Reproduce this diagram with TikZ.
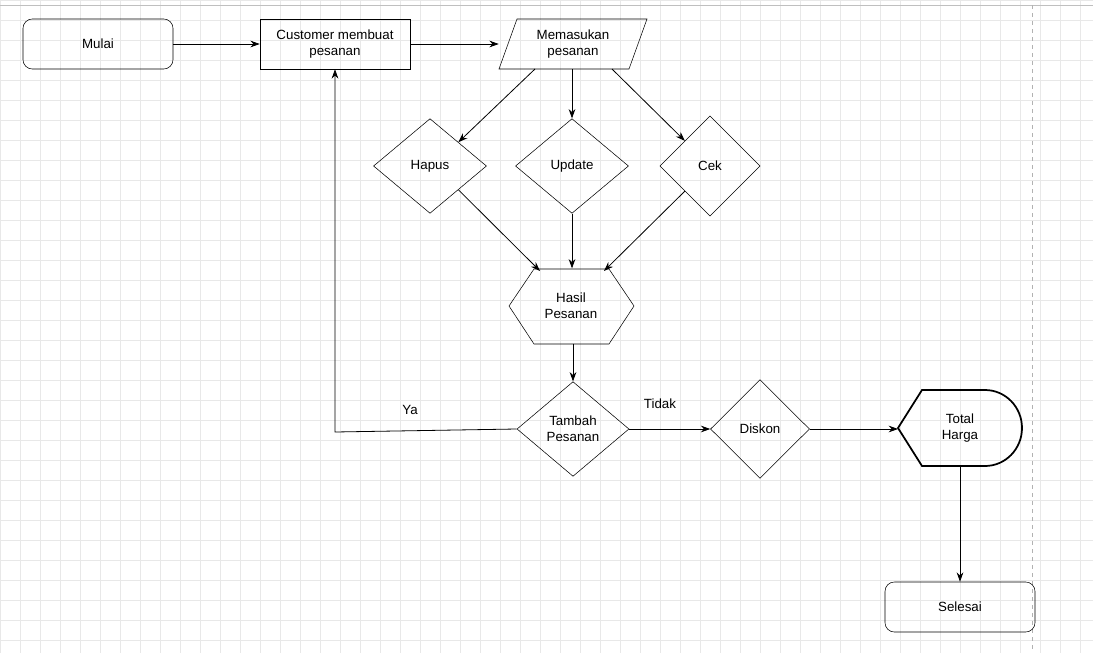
\documentclass[tikz,border=0pt]{standalone}
\usepackage{fontspec}
\setmainfont{Liberation Sans}
\usetikzlibrary{shapes.geometric,arrows.meta}
\begin{document}
\begin{tikzpicture}[x=0.75pt,y=-0.75pt,
  every node/.style={font=\fontsize{10}{12}\selectfont,align=center,inner sep=0pt},
  rbox/.style={draw,rounded corners=7pt,minimum width=112.5pt,minimum height=37.5pt},
  sbox/.style={draw,minimum width=112.5pt,minimum height=37.5pt},
  dia/.style={draw,diamond,minimum width=#1*0.75pt,minimum height=71pt},
  arr/.style={-{Stealth[length=7pt,width=5pt]},line width=0.6pt},
  lbl/.style={font=\fontsize{10}{12}\selectfont}]
\useasboundingbox (0,0) rectangle (1093,653);
\fill[white] (0,0) rectangle (1093,653);
\draw[gray!18,line width=0.3pt,step=15pt] (0,0) grid (1093,653);
\draw[gray!50] (0,5) -- (1093,5);
\draw[gray!60,dashed] (1032,5) -- (1032,653);
\node[rbox] (mulai) at (98,44) {Mulai};
\node[sbox] (cust) at (335,44) {Customer membuat\\pesanan};
\node[minimum width=111pt,minimum height=37.5pt] (mem) at (573,44) {Memasukan\\pesanan};
\draw (517,19) -- (647,19) -- (629,69) -- (499,69) -- cycle;
\node[dia=113] (hapus) at (430,166) {Hapus};
\node[dia=113] (upd) at (572,166) {Update};
\node[dia=100,minimum height=75pt] (cek) at (710,166) {Cek};
\node[minimum width=94pt,minimum height=56pt] (hasil) at (571,306) {Hasil\\Pesanan};
\draw (534,269) -- (609,269) -- (634,306) -- (609,344) -- (534,344) -- (509,306) -- cycle;
\node[dia=112] (tambah) at (573,429) {Tambah\\Pesanan};
\node[dia=99,minimum height=74pt] (diskon) at (760,429) {Diskon};
\node[minimum width=93pt,minimum height=57pt] (total) at (960,428) {Total\\Harga};
\draw[line width=1.3pt] (898,428) -- (922,390) -- (985,390) arc[start angle=-90,end angle=90,x radius=37,y radius=38] -- (922,466) -- cycle;
\node[rbox] (sel) at (960,607) {Selesai};
\coordinate (ycorner) at (335,432);
\draw[arr] (mulai) -- (cust);
\draw[arr] (cust) -- (mem);
\draw[arr] (535,69) -- (hapus.north east);
\draw[arr] (upd.north |- mem.south) -- (upd.north);
\draw[arr] (612,69) -- (cek.north west);
\draw[arr] (hapus.south east) -- (540,271);
\draw[arr] (upd.south) -- (upd.south |- hasil.north);
\draw[arr] (cek.south west) -- (604,271);
\draw[arr] (hasil.south -| tambah.north) -- (tambah.north);
\draw[arr] (tambah.west) -- (ycorner) -- (cust.south -| ycorner);
\draw[arr] (tambah.east) -- (diskon.west);
\draw[arr] (diskon.east) -- (898,429);
\draw[arr] (total.south) -- (sel.north);
\node[lbl] (ya) at (410,410) {Ya};
\node[lbl] (tidak) at (660,404) {Tidak};
\end{tikzpicture}
\end{document}
